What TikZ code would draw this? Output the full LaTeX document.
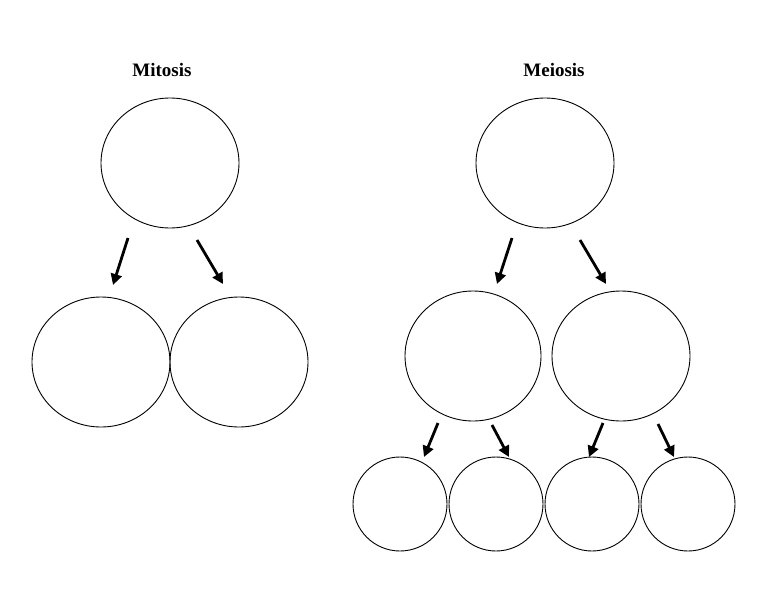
\documentclass[tikz,border=0pt]{standalone}
\usepackage{fontspec}
\setmainfont{Liberation Serif}
\usetikzlibrary{shapes.geometric,arrows.meta}
\begin{document}
\begin{tikzpicture}[x=1pt,y=-1pt,
  cell/.style={draw,ellipse,line width=0.9pt,inner sep=0pt},
  big/.style={cell,minimum width=138pt,minimum height=130pt},
  small/.style={cell,minimum width=94pt,minimum height=94pt},
  arr/.style={-{Triangle[length=11pt,width=11pt]},line width=2.8pt},
  ttl/.style={font=\fontsize{19}{22}\selectfont\bfseries}]
\useasboundingbox (0,0) rectangle (768,594);
\node[ttl] (t1) at (162,70) {Mitosis};
\node[ttl] (t2) at (554,70) {Meiosis};
\node[big] (m0) at (170,163) {};
\node[big] (m1) at (101,362) {};
\node[big] (m2) at (239,362) {};
\node[big] (e0) at (545,163) {};
\node[big,minimum width=136pt] (e1) at (473,356) {};
\node[big] (e2) at (621,356) {};
\node[small] (s1) at (400,504) {};
\node[small] (s2) at (496,504) {};
\node[small] (s3) at (592,504) {};
\node[small] (s4) at (688,504) {};
\foreach \n/\a/\b/\c/\d in {a1/128/238/113/285, a2/197/240/223/284, a3/512/238/497/284, a4/580/240/606/284, a5/438/423/424/457, a6/492/425/509/457, a7/603/423/589/457, a8/658/424/674/457}{
  \coordinate (\n s) at (\a,\b);
  \coordinate (\n e) at (\c,\d);
  \draw[arr] (\n s) -- (\n e);
}
\end{tikzpicture}
\end{document}
